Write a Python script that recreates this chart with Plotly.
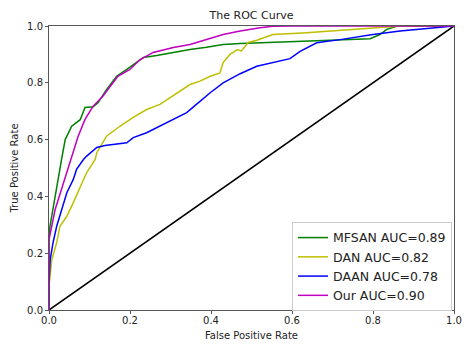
import plotly.graph_objects as go

# MFSAN (green)
mfsan_fpr = [0, 0, 0.003, 0.01, 0.019, 0.027, 0.031, 0.04, 0.056, 0.077, 0.089, 0.109, 0.121, 0.142,
             0.167, 0.192, 0.208, 0.233, 0.266, 0.307, 0.348, 0.389, 0.43, 0.472, 0.553, 0.677,
             0.793, 0.817, 0.834, 0.858, 0.87, 1.0]
mfsan_tpr = [0, 0.27, 0.30, 0.36, 0.424, 0.495, 0.53, 0.60, 0.647, 0.67, 0.713, 0.716, 0.73, 0.776,
             0.823, 0.847, 0.864, 0.889, 0.896, 0.907, 0.917, 0.925, 0.935, 0.938, 0.943, 0.949,
             0.955, 0.97, 0.988, 0.999, 1.0, 1.0]

# DAN (yellow)
dan_fpr = [0, 0, 0.007, 0.019, 0.027, 0.044, 0.06, 0.077, 0.093, 0.114, 0.118, 0.142, 0.175, 0.208,
           0.241, 0.274, 0.299, 0.323, 0.348, 0.373, 0.398, 0.422, 0.43, 0.447, 0.465, 0.475, 0.492,
           0.513, 0.553, 0.636, 0.719, 0.8, 0.858, 0.87, 1.0]
dan_tpr = [0, 0.084, 0.178, 0.237, 0.295, 0.33, 0.378, 0.436, 0.484, 0.53, 0.554, 0.612, 0.647, 0.678,
           0.706, 0.724, 0.748, 0.771, 0.794, 0.806, 0.823, 0.835, 0.871, 0.90, 0.917, 0.912, 0.942,
           0.95, 0.97, 0.976, 0.984, 0.994, 0.999, 1.0, 1.0]

# DAAN (blue)
daan_fpr = [0, 0, 0.003, 0.01, 0.019, 0.031, 0.044, 0.06, 0.068, 0.085, 0.093, 0.118, 0.138, 0.192,
            0.208, 0.241, 0.274, 0.307, 0.34, 0.364, 0.398, 0.43, 0.472, 0.513, 0.595, 0.62, 0.661,
            0.719, 0.8, 0.867, 0.923, 1.0]
daan_tpr = [0, 0.097, 0.178, 0.237, 0.295, 0.354, 0.413, 0.46, 0.495, 0.53, 0.542, 0.572, 0.579, 0.589,
            0.607, 0.624, 0.647, 0.671, 0.695, 0.724, 0.765, 0.80, 0.832, 0.858, 0.885, 0.911, 0.941,
            0.952, 0.97, 0.982, 0.99, 1.0]

# Our (magenta)
our_fpr = [0, 0, 0.015, 0.031, 0.047, 0.06, 0.072, 0.089, 0.109, 0.133, 0.151, 0.17, 0.2, 0.225,
           0.257, 0.307, 0.348, 0.389, 0.43, 0.472, 0.521, 0.553, 0.6, 1.0]
our_tpr = [0, 0.248, 0.353, 0.424, 0.494, 0.554, 0.612, 0.671, 0.718, 0.753, 0.788, 0.823, 0.847, 0.882,
           0.907, 0.924, 0.935, 0.952, 0.97, 0.982, 0.994, 0.999, 1.0, 1.0]

diag = [0, 1]

series = [
    ("MFSAN AUC=0.89", mfsan_fpr, mfsan_tpr, "#008000"),
    ("DAN AUC=0.82", dan_fpr, dan_tpr, "#bfbf00"),
    ("DAAN AUC=0.78", daan_fpr, daan_tpr, "#0000ff"),
    ("Our AUC=0.90", our_fpr, our_tpr, "#bf00bf"),
]

fig = go.Figure()
fig.add_trace(go.Scatter(x=diag, y=diag, mode="lines", line=dict(color="black", width=1.6),
                         showlegend=False, hoverinfo="skip"))
for name, fx, ty, col in series:
    fig.add_trace(go.Scatter(x=fx, y=ty, mode="lines", name=name,
                             line=dict(color=col, width=1.5)))

axis_common = dict(
    showgrid=False, zeroline=False, showline=True, linecolor="#555555", linewidth=1,
    mirror=True, ticks="outside", ticklen=3, tickcolor="#555555", tickwidth=1,
    tickfont=dict(family="DejaVu Sans", size=10, color="#222222"),
    tickformat=".1f", dtick=0.2,
)
fig.update_xaxes(range=[0, 1], ticklabelstandoff=-2,
                 title=dict(text="False Positive Rate", standoff=6,
                            font=dict(family="DejaVu Sans", size=10, color="#222222")),
                 **axis_common)
fig.update_yaxes(range=[0, 1],
                 title=dict(text="True Positive Rate", standoff=6,
                            font=dict(family="DejaVu Sans", size=10, color="#222222")),
                 **axis_common)

fig.update_layout(
    width=474, height=353,
    margin=dict(l=49, r=20, t=26, b=43),
    paper_bgcolor="white", plot_bgcolor="white",
    title=dict(text="The ROC Curve", x=0.5, xref="paper", y=1 - 15 / 353, yanchor="middle",
               font=dict(family="DejaVu Sans", size=11, color="#222222")),
    legend=dict(x=0.6, y=0.31, xanchor="left", yanchor="top",
                bgcolor="rgba(255,255,255,0.9)", bordercolor="#cccccc", borderwidth=1,
                font=dict(family="DejaVu Sans", size=12.5, color="#222222"),
                tracegroupgap=0, itemwidth=30),
    showlegend=True,
)

fig.write_html("out.html")
